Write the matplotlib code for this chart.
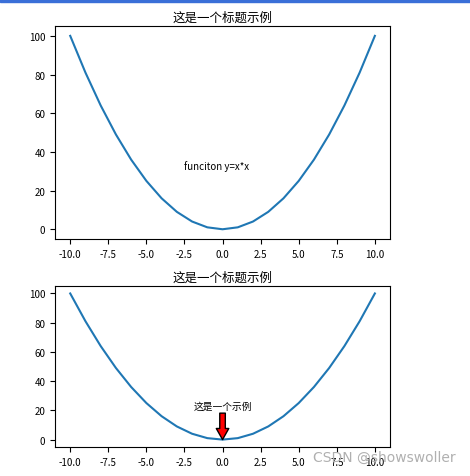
import matplotlib
matplotlib.use("Agg")
import matplotlib.pyplot as plt
from matplotlib.patches import Rectangle

plt.rcParams['font.family'] = ['Noto Sans CJK SC', 'DejaVu Sans']
plt.rcParams['axes.unicode_minus'] = False

x = [-10, -9, -8, -7, -6, -5, -4, -3, -2, -1, 0, 1, 2, 3, 4, 5, 6, 7, 8, 9, 10]
y = [100, 81, 64, 49, 36, 25, 16, 9, 4, 1, 0, 1, 4, 9, 16, 25, 36, 49, 64, 81, 100]
title = "这是一个标题示例"

fig = plt.figure(figsize=(4.7, 4.77), dpi=100)
fig.patches.append(Rectangle((0, 0.993), 1, 0.007, transform=fig.transFigure, color='#3a6fd8', zorder=10))

ax1 = fig.add_axes([0.117, 0.497, 0.713, 0.446])
ax1.plot(x, y, color='#1f77b4')
ax1.set_title(title, fontsize=9, pad=4)
ax1.text(-2.5, 30, "funciton y=x*x", fontsize=7, va='bottom')
ax1.tick_params(labelsize=7)

ax2 = fig.add_axes([0.117, 0.061, 0.713, 0.337])
ax2.plot(x, y, color='#1f77b4')
ax2.set_title(title, fontsize=9, pad=4)
ax2.tick_params(labelsize=7)
ax2.annotate("这是一个示例", xy=(0, 0), xytext=(0, 20), fontsize=7, ha='center', va='bottom',
             arrowprops=dict(facecolor='red', edgecolor='black', shrink=0.0, width=4, headwidth=9, headlength=8))

fig.text(0.97, 0.025, "CSDN @showswoller", fontsize=10, color='#b0b0b0', ha='right', va='bottom', family=['DejaVu Sans'])
fig.savefig("out.png", dpi=100)
